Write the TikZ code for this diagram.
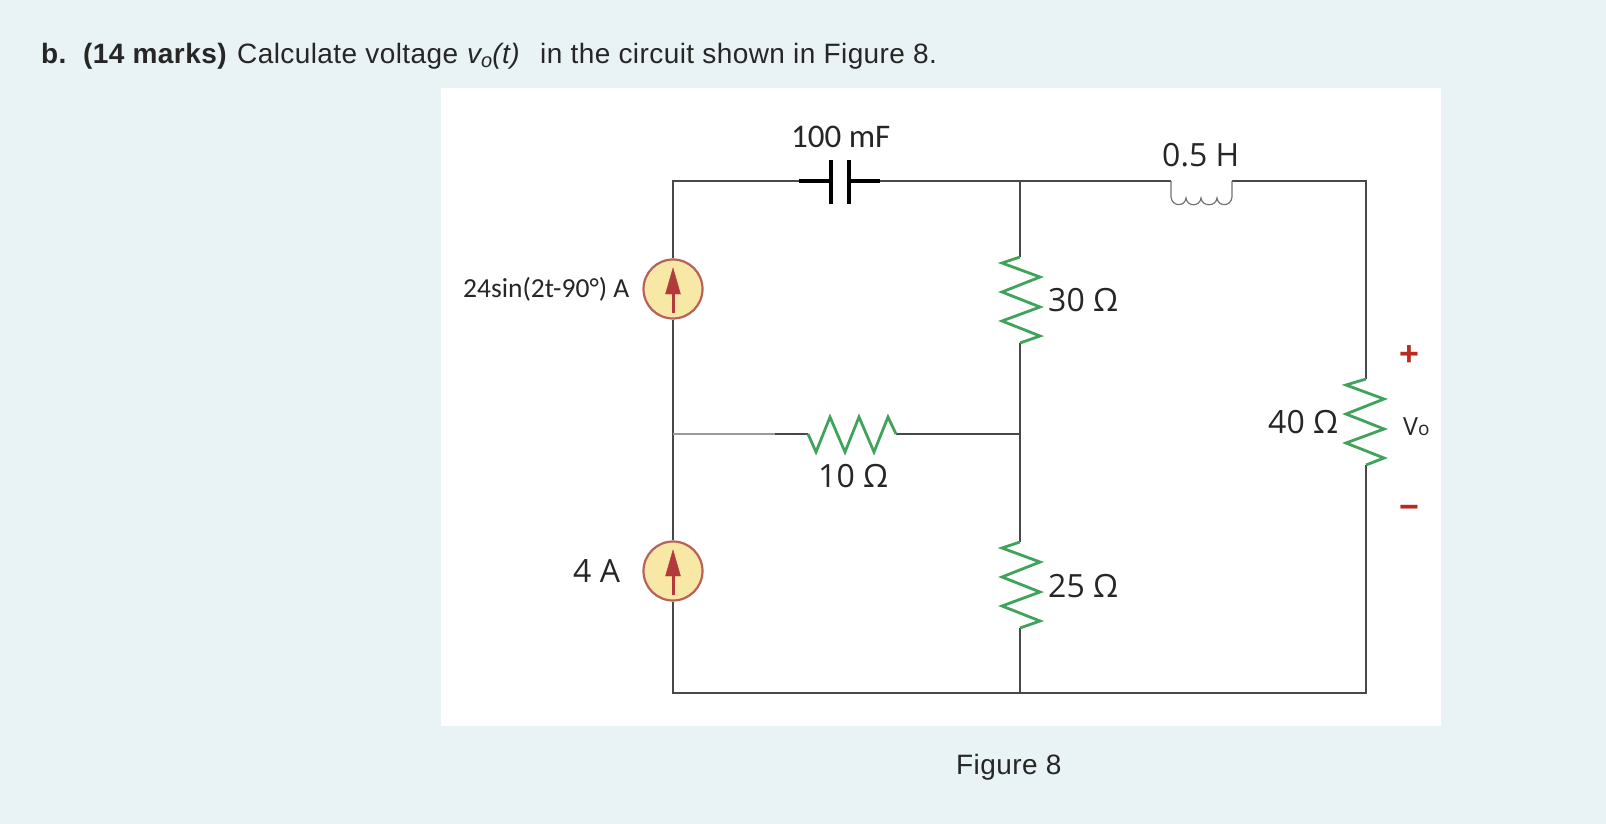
\documentclass[tikz,border=0pt]{standalone}
\usepackage{fontspec}
\setmainfont{Liberation Sans}
\newfontfamily\calfam{Carlito}
\newfontfamily\segfam{Open Sans}
\newfontfamily\headfam[LetterSpace=1.5]{Liberation Sans}
\definecolor{bgc}{HTML}{E9F2F5}
\definecolor{wirec}{HTML}{484848}
\definecolor{zigc}{HTML}{3FA35C}
\definecolor{srcfill}{HTML}{F8E8A6}
\definecolor{srcedge}{HTML}{B9605A}
\definecolor{arrowc}{HTML}{B23A3A}
\definecolor{signc}{HTML}{B82A22}
\definecolor{txtc}{HTML}{262626}
\begin{document}
\begin{tikzpicture}[x=1pt,y=-1pt,
  wire/.style={draw=wirec,line width=1.5pt},
  lightwire/.style={draw=black!40,line width=2pt},
  zig/.style={draw=zigc,line width=2.8pt,line join=miter},
  coil/.style={draw=black!55,line width=1.2pt},
  plate/.style={draw=black,line width=4.4pt},
  src/.style={circle,draw=srcedge,fill=srcfill,line width=2.2pt,minimum size=59pt,inner sep=0pt},
  srcarrow/.style={draw=arrowc,fill=arrowc},
  headtxt/.style={inner sep=0pt,anchor=base west,text=txtc,font=\headfam\fontsize{28}{30}\selectfont},
  capfont/.style={font=\calfam\fontsize{33}{36}\selectfont},
  caltxt/.style={inner sep=0pt,anchor=base west,text=txtc,font=\calfam\fontsize{27.5}{30}\selectfont},
  segtxt/.style={inner sep=0pt,anchor=base west,text=txtc,font=\segfam\fontsize{32}{36}\selectfont},
  signtxt/.style={inner sep=0pt,anchor=center,text=signc,font=\bfseries\fontsize{34}{36}\selectfont}]
\useasboundingbox (0,0) rectangle (1606,824);
\fill[bgc] (0,0) rectangle (1606,824);
\fill[white] (441,88) rectangle (1441,726);
% heading
\node[headtxt] (hb) at (41,64) {\bfseries b.};
\node[headtxt] (hm) at (83,64) {\bfseries (14 marks)};
\node[headtxt] (hc) at (237,64) {Calculate voltage};
\node[headtxt] (hv) at (467,64) {\itshape v\raisebox{-4pt}{\fontsize{20}{20}\selectfont o}(t)};
\node[headtxt] (hi) at (540,64) {in the circuit shown in Figure 8.};
\node[headtxt] (fig) at (956,774) {Figure 8};
% junctions
\coordinate (tl) at (673,181);
\coordinate (tm) at (1020,181);
\coordinate (tr) at (1366,181);
\coordinate (ml) at (673,434);
\coordinate (mm) at (1020,434);
\coordinate (bl) at (673,693);
\coordinate (bm) at (1020,693);
\coordinate (br) at (1366,693);
\coordinate (capa) at (831,181);
\coordinate (capb) at (849,181);
\coordinate (inda) at (1171,181);
\coordinate (indb) at (1232,181);
\coordinate (r30a) at (1020,257);
\coordinate (r30b) at (1020,343);
\coordinate (r25a) at (1020,542);
\coordinate (r25b) at (1020,628);
\coordinate (r40a) at (1366,379);
\coordinate (r40b) at (1366,465);
\coordinate (r10a) at (808,434);
\coordinate (r10b) at (896,434);
\coordinate (lg) at (775,434);
\node[src] (s1) at (673,289) {};
\node[src] (s2) at (673,571) {};
% wires
\draw[wire] (s1.north) -- (tl) -- (capa);
\draw[wire] (capb) -- (tm) -- (inda);
\draw[wire] (indb) -- (tr) -- (r40a);
\draw[wire] (tm) -- (r30a);
\draw[wire] (r30b) -- (r25a);
\draw[wire] (r25b) -- (bm);
\draw[wire] (r40b) -- (br) -- (bl) -- (s2.south);
\draw[wire] (s1.south) -- (s2.north);
\draw[lightwire] (ml) -- (lg);
\draw[wire] (lg) -- (r10a);
\draw[wire] (r10b) -- (mm);
% capacitor
\draw[plate] (799,181) -- (capa);
\draw[plate] (capb) -- (880,181);
\draw[plate] (831,160) -- (831,204);
\draw[plate] (849,160) -- (849,204);
% inductor
\draw[coil] (inda) -- (1171,197)
  .. controls (1172,207) and (1185,207) .. (1186,198)
  .. controls (1187,207) and (1200,207) .. (1201,198)
  .. controls (1202,207) and (1216,207) .. (1217,198)
  .. controls (1218,207) and (1231,207) .. (1232,197) -- (indb);
% resistors
\draw[zig] (r30a) -- ++(-18,6) -- ++(38,14) -- ++(-38,15) -- ++(38,15) -- ++(-38,14) -- ++(38,15) -- (r30b);
\draw[zig] (r25a) -- ++(-18,6) -- ++(38,14) -- ++(-38,15) -- ++(38,15) -- ++(-38,14) -- ++(38,15) -- (r25b);
\draw[zig] (r40a) -- ++(-20,6) -- ++(38,14) -- ++(-38,15) -- ++(38,15) -- ++(-38,14) -- ++(38,15) -- (r40b);
\draw[zig] (r10a) -- ++(8,18) -- ++(14,-35) -- ++(15,35) -- ++(14,-35) -- ++(15,35) -- ++(14,-35) -- (r10b);
% source arrows
\foreach \s in {s1,s2}{
  \fill[srcarrow] ([yshift=21pt]\s.center) -- ([xshift=7.5pt,yshift=-5pt]\s.center) -- ([xshift=-7.5pt,yshift=-5pt]\s.center) -- cycle;
  \draw[srcarrow,line width=3pt] ([yshift=-4pt]\s.center) -- ([yshift=-24pt]\s.center);
}
% labels
\node[caltxt,capfont] (lc) at (791,148) {100 mF};
\node[caltxt] (ls1) at (463,297) {24sin(2t-90°) A};
\node[segtxt] (ls2) at (573,582) {4 A};
\node[segtxt] (ll) at (1162,167) {0.5 H};
\node[segtxt] (l30) at (1048,311) {30 Ω};
\node[segtxt] (l25) at (1048,597) {25 Ω};
\node[segtxt] (l40) at (1268,433) {40 Ω};
\node[segtxt] (l10) at (818,487) {10 Ω};
\node[inner sep=0pt,anchor=base west,text=txtc,font=\segfam\fontsize{25}{27}\selectfont] (lv) at (1403,435) {V{\fontsize{19}{20}\selectfont o}};
\node[signtxt] (lp) at (1409,356) {+};
\node[signtxt] (lm) at (1409,512) {−};
\end{tikzpicture}
\end{document}
